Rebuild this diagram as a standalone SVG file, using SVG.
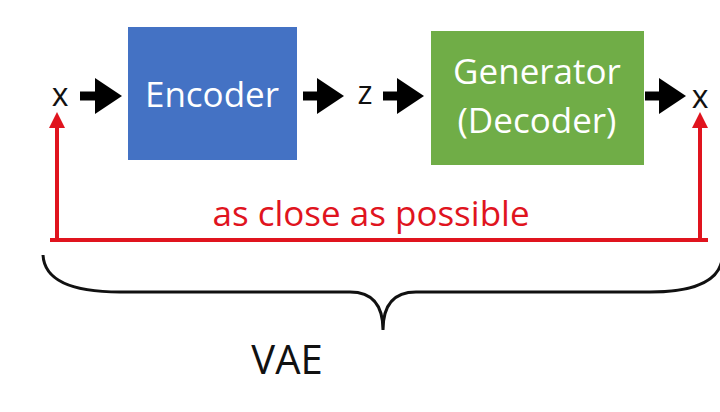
<svg xmlns="http://www.w3.org/2000/svg" width="720" height="412" viewBox="0 0 720 412">
<style>
text{font-family:"Open Sans","Liberation Sans",sans-serif}
.box{font-size:35px;fill:#fff;text-anchor:middle}
.lbl{font-size:32px;fill:#111;text-anchor:middle}
.ar{stroke:#000;stroke-width:9;fill:none;marker-end:url(#ah)}
.red{stroke:#e0141e;stroke-width:4;fill:none}
</style>
<defs>
<marker id="ah" markerWidth="4" markerHeight="4" refX="1" refY="2" orient="auto"><path d="M0,0L3,2L0,4Z" fill="#000"/></marker>
<marker id="rh" markerWidth="4" markerHeight="4" refX="2" refY="2" orient="auto"><path d="M0,0L4,2L0,4Z" fill="#e0141e"/></marker>
</defs>
<rect width="720" height="412" fill="#fff"/>
<g id="x-in"><text class="lbl" x="60" y="106">x</text></g>
<g id="encoder"><rect x="128" y="27" width="169" height="133" fill="#4472C4"/><text class="box" x="212" y="107">Encoder</text></g>
<g id="z"><text class="lbl" x="365" y="104" font-size="28">z</text></g>
<g id="generator"><rect x="431" y="31" width="213" height="134" fill="#70AD47"/><text class="box" x="537" y="84">Generator</text><text class="box" x="537" y="133">(Decoder)</text></g>
<g id="x-out"><text class="lbl" x="700" y="108">x</text></g>
<g id="connectors">
<path class="ar" d="M80,96H104"/>
<path class="ar" d="M303,96H326"/>
<path class="ar" d="M383,96H406"/>
<path class="ar" d="M645,96H668"/>
<path class="red" d="M57,240V120" marker-end="url(#rh)"/>
<path class="red" d="M700,240V120" marker-end="url(#rh)"/>
<path class="red" d="M50,240H708"/>
</g>
<g id="label"><text x="371" y="226" font-size="35" fill="#e0141e" text-anchor="middle">as close as possible</text></g>
<g id="brace"><path d="M43,255Q45,292 120,292H350Q383,292 383,330Q383,292 416,292H650Q716,292 722,260" fill="none" stroke="#111" stroke-width="3"/></g>
<g id="vae"><text x="287" y="374" font-size="40" fill="#111" text-anchor="middle">VAE</text></g>
</svg>
